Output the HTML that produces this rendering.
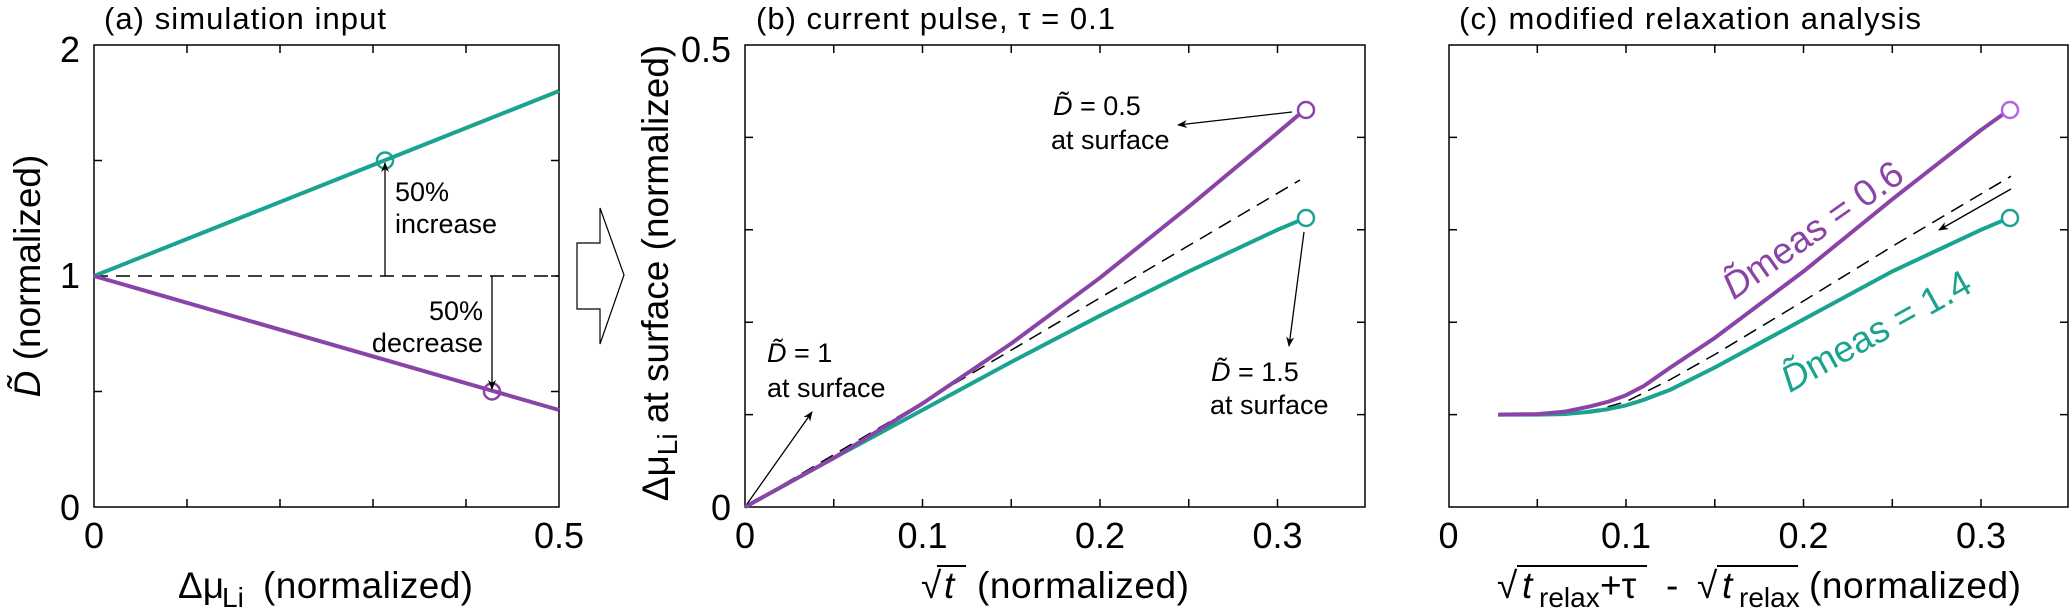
<!DOCTYPE html>
<html><head><meta charset="utf-8"><style>
html,body{margin:0;padding:0;background:#fff;}
svg{display:block;font-family:"Liberation Sans",sans-serif;}
</style></head><body>
<svg width="2070" height="613" viewBox="0 0 2070 613" xmlns="http://www.w3.org/2000/svg">
<defs>
<marker id="ah" markerWidth="10" markerHeight="8" refX="9" refY="4" orient="auto" markerUnits="userSpaceOnUse">
<path d="M0,0 L10,4 L0,8 L3,4 z" fill="#000"/></marker>
</defs>
<g fill="none" stroke="#000" stroke-width="1.5">
<rect x="94" y="45" width="465" height="462"/>
<path d="M187,507v-8M280,507v-8M373,507v-8M466,507v-8M187,45v8M280,45v8M373,45v8M466,45v8
M94,391.5h8M94,276h8M94,160.5h8M559,391.5h-8M559,276h-8M559,160.5h-8"/>
<rect x="745" y="45" width="620" height="462"/>
<path d="M833.75,507v-8M922.5,507v-8M1011.25,507v-8M1100,507v-8M1188.75,507v-8M1277.5,507v-8
M833.75,45v8M922.5,45v8M1011.25,45v8M1100,45v8M1188.75,45v8M1277.5,45v8
M745,414.6h8M745,322.2h8M745,229.8h8M745,137.4h8M1365,414.6h-8M1365,322.2h-8M1365,229.8h-8M1365,137.4h-8"/>
<rect x="1449" y="45" width="619" height="462"/>
<path d="M1537.3,507v-8M1626,507v-8M1714.8,507v-8M1803.5,507v-8M1892.3,507v-8M1981,507v-8
M1537.3,45v8M1626,45v8M1714.8,45v8M1803.5,45v8M1892.3,45v8M1981,45v8
M1449,414.6h8M1449,322.2h8M1449,229.8h8M1449,137.4h8M2068,414.6h-8M2068,322.2h-8M2068,229.8h-8M2068,137.4h-8"/>
</g>
<path d="M577,243 H600 V208 L624,275 L600,344 V309 H577 Z" fill="#fff" stroke="#000" stroke-width="1.2"/>

<!-- panel a data -->
<line x1="94" y1="276" x2="559" y2="276" stroke="#000" stroke-width="1.5" stroke-dasharray="14,8"/>
<line x1="94" y1="276" x2="559" y2="91" stroke="#1aa38f" stroke-width="4"/>
<line x1="94" y1="276" x2="559" y2="410" stroke="#8a44a8" stroke-width="4"/>
<circle cx="385" cy="160.5" r="8" fill="none" stroke="#1aa38f" stroke-width="2.5"/>
<circle cx="492" cy="391.5" r="8" fill="none" stroke="#8a44a8" stroke-width="2.5"/>
<line x1="385" y1="276" x2="385" y2="163" stroke="#000" stroke-width="1.3" marker-end="url(#ah)"/>
<line x1="492" y1="276" x2="492" y2="389" stroke="#000" stroke-width="1.3" marker-end="url(#ah)"/>
<g font-size="27" fill="#000">
<text x="395" y="201">50%</text>
<text x="395" y="233">increase</text>
<text x="483" y="320" text-anchor="end">50%</text>
<text x="483" y="352" text-anchor="end">decrease</text>
</g>

<!-- panel b data -->
<line x1="745" y1="507" x2="1300" y2="180" stroke="#000" stroke-width="1.5" stroke-dasharray="14,8"/>
<polyline fill="none" stroke="#1aa38f" stroke-width="4" stroke-linejoin="round" points="745,507 833.75,458 922.5,410 1011.25,362 1100,315.7 1188.75,271.4 1277.5,229.8 1305.9,217.8"/>
<polyline fill="none" stroke="#8a44a8" stroke-width="4" stroke-linejoin="round" points="745,507 833.75,458 922.5,403.5 1011.25,343.5 1100,277.8 1188.75,206.7 1277.5,132.8 1305.9,108.8"/>
<circle cx="1306" cy="110" r="8" fill="#fff" stroke="#8a44a8" stroke-width="2.5"/>
<circle cx="1306" cy="218" r="8" fill="#fff" stroke="#1aa38f" stroke-width="2.5"/>
<g stroke="#000" stroke-width="1.3">
<line x1="1292" y1="112" x2="1178" y2="125" marker-end="url(#ah)"/>
<line x1="747" y1="504" x2="812" y2="412" marker-end="url(#ah)"/>
<line x1="1304" y1="232" x2="1289" y2="346" marker-end="url(#ah)"/>
</g>
<g font-size="27" fill="#000">
<text x="1053" y="115"><tspan font-style="italic">D̃</tspan> = 0.5</text>
<text x="1051" y="149">at surface</text>
<text x="767" y="362"><tspan font-style="italic">D̃</tspan> = 1</text>
<text x="767" y="397">at surface</text>
<text x="1211" y="381"><tspan font-style="italic">D̃</tspan> = 1.5</text>
<text x="1210" y="414">at surface</text>
</g>

<!-- panel c data -->
<polyline fill="none" stroke="#000" stroke-width="1.5" stroke-dasharray="14,8" points="1498.2,414.6 1537.3,414.6 1572.75,413.2 1599.4,409.1 1626,401.7 1670.4,379.5 1714.8,354.5 1803.5,301 1892.3,246.4 2011,176.2"/>
<polyline fill="none" stroke="#1aa38f" stroke-width="4" stroke-linejoin="round" points="1498.2,414.6 1537.3,414.6 1563.9,414.1 1590.5,411.8 1608.3,409.1 1626,405.4 1643.8,399.8 1670.4,389.7 1714.8,367.5 1803.5,319.4 1892.3,271.4 1981,229.8 2009.4,217.8"/>
<polyline fill="none" stroke="#8a44a8" stroke-width="4" stroke-linejoin="round" points="1498.2,414.6 1537.3,414.1 1563.9,411.8 1590.5,406.3 1608.3,401.7 1626,395.2 1643.8,386 1670.4,367.5 1714.8,337.9 1803.5,271.4 1892.3,199.3 1981,130 2009.4,109.7"/>
<circle cx="2010" cy="110" r="8" fill="#fff" stroke="#b366e6" stroke-width="2.5"/>
<circle cx="2010" cy="218" r="8" fill="#fff" stroke="#1aa38f" stroke-width="2.5"/>
<line x1="2011" y1="189" x2="1939" y2="230" stroke="#000" stroke-width="1.3" marker-end="url(#ah)"/>
<text x="0" y="0" font-size="37" fill="#8a44a8" text-anchor="middle" transform="translate(1820,240) rotate(-35)"><tspan font-style="italic">D̃</tspan>meas = 0.6</text>
<text x="0" y="0" font-size="37" fill="#1aa38f" text-anchor="middle" transform="translate(1882,342) rotate(-29)"><tspan font-style="italic">D̃</tspan>meas = 1.4</text>

<!-- titles -->
<g font-size="31" fill="#000">
<text x="104" y="29" textLength="282">(a) simulation input</text>
<text x="756" y="29" textLength="359">(b) current pulse, τ = 0.1</text>
<text x="1459" y="29" textLength="462">(c) modified relaxation analysis</text>
</g>

<!-- tick labels -->
<g font-size="36" fill="#000">
<text x="80" y="62" text-anchor="end">2</text>
<text x="80" y="288" text-anchor="end">1</text>
<text x="80" y="520" text-anchor="end">0</text>
<text x="94" y="548" text-anchor="middle">0</text>
<text x="559" y="548" text-anchor="middle">0.5</text>
<text x="731" y="62" text-anchor="end">0.5</text>
<text x="731" y="520" text-anchor="end">0</text>
<text x="745" y="548" text-anchor="middle">0</text>
<text x="922.5" y="548" text-anchor="middle">0.1</text>
<text x="1100" y="548" text-anchor="middle">0.2</text>
<text x="1277.5" y="548" text-anchor="middle">0.3</text>
<text x="1448.5" y="548" text-anchor="middle">0</text>
<text x="1626" y="548" text-anchor="middle">0.1</text>
<text x="1803.5" y="548" text-anchor="middle">0.2</text>
<text x="1981" y="548" text-anchor="middle">0.3</text>
</g>

<!-- axis labels -->
<g font-size="37" fill="#000">
<text x="178" y="598">Δμ</text>
<text x="222" y="607" font-size="28">Li</text>
<text x="263" y="598" textLength="210">(normalized)</text>
<text transform="translate(40,276) rotate(-90)" text-anchor="middle"><tspan font-style="italic">D̃</tspan> (normalized)</text>
<text transform="translate(668,273) rotate(-90)" text-anchor="middle">Δμ<tspan font-size="28" dy="9">Li</tspan><tspan dy="-9"> at surface (normalized)</tspan></text>

<text x="921" y="598">√</text>
<text x="944" y="598" font-style="italic">t</text>
<line x1="937" y1="566" x2="966" y2="566" stroke="#000" stroke-width="2"/>
<text x="977" y="598" textLength="212">(normalized)</text>

<text x="1497" y="598">√</text>
<text x="1522" y="598" font-style="italic">t</text>
<text x="1539" y="607" font-size="28">relax</text>
<text x="1600" y="598">+τ</text>
<text x="1666" y="598">-</text>
<text x="1697" y="598">√</text>
<text x="1722" y="598" font-style="italic">t</text>
<text x="1739" y="607" font-size="28">relax</text>
<text x="1809" y="598" textLength="212">(normalized)</text>
<line x1="1517" y1="566" x2="1647" y2="566" stroke="#000" stroke-width="2"/>
<line x1="1717" y1="566" x2="1798" y2="566" stroke="#000" stroke-width="2"/>
</g>
</svg>
</body></html>
